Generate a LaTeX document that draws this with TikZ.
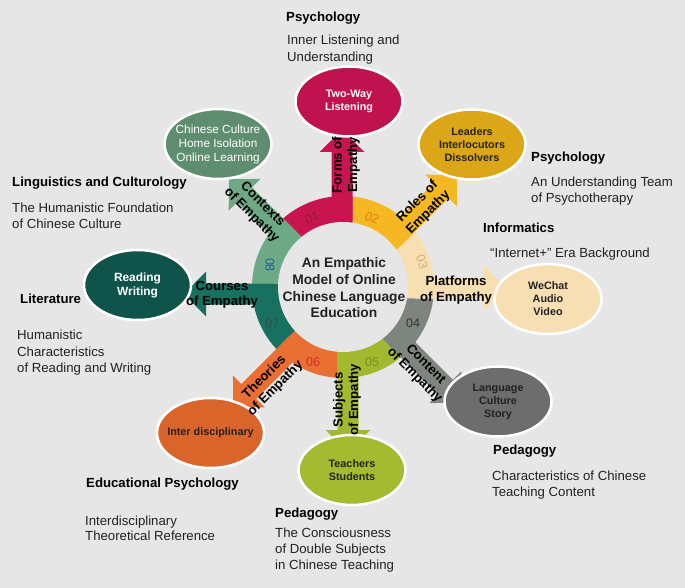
\documentclass[tikz,border=0pt]{standalone}
\usepackage{fontspec}
\setmainfont{Liberation Sans}
\usetikzlibrary{shapes.geometric}
\definecolor{bg}{HTML}{E6E6E6}
\definecolor{cA}{HTML}{C8154F}
\definecolor{cB}{HTML}{F5B722}
\definecolor{cC}{HTML}{F8DFB1}
\definecolor{cD}{HTML}{7E857F}
\definecolor{cE}{HTML}{A2B92F}
\definecolor{cF}{HTML}{E96F33}
\definecolor{cG}{HTML}{187060}
\definecolor{cH}{HTML}{6EA985}
\definecolor{eA}{HTML}{C0124E}
\definecolor{eB}{HTML}{DBA718}
\definecolor{eC}{HTML}{F7DFB3}
\definecolor{eD}{HTML}{6D6D6D}
\definecolor{eE}{HTML}{A4BA30}
\definecolor{eF}{HTML}{D9652B}
\definecolor{eG}{HTML}{10534A}
\definecolor{eH}{HTML}{5F8D6F}
\definecolor{nA}{HTML}{8E1B3C}
\definecolor{nB}{HTML}{E87C1E}
\definecolor{nC}{HTML}{D4AE74}
\definecolor{nD}{HTML}{333333}
\definecolor{nE}{HTML}{6F8F1F}
\definecolor{nF}{HTML}{D42E2E}
\definecolor{nG}{HTML}{2F4F4A}
\definecolor{nH}{HTML}{1F5F9F}
\definecolor{txt}{HTML}{222222}
\tikzset{
  ell/.style={ellipse, draw=white, line width=2.5pt, minimum width=107pt, minimum height=70pt, inner sep=0pt},
  etxt/.style={font=\fontsize{10.8}{13}\selectfont\bfseries, align=center, inner sep=0pt, text=txt},
  ringlbl/.style={font=\fontsize{13.2}{15.5}\selectfont\bfseries, align=center, inner sep=0pt, text=black},
  num/.style={font=\fontsize{12.5}{13}\selectfont, inner sep=0pt},
  headtxt/.style={font=\fontsize{13.2}{16}\selectfont\bfseries, anchor=base west, inner sep=0pt, text=black},
  bodytxt/.style={font=\fontsize{13.2}{16}\selectfont, anchor=base west, inner sep=0pt, text=txt}
}
\begin{document}
\begin{tikzpicture}[x=1pt,y=1pt]
\useasboundingbox (0,0) rectangle (685,-588);
\fill[bg] (0,0) rectangle (685,-588);
\coordinate (ringc) at (343,-287);
\coordinate (axc) at (345,-291);

% ring wedges
\begin{scope}
\clip (ringc) circle (91);
\foreach \ang/\col in {90/cA,45/cB,0/cC,-45/cD,-90/cE,-135/cF,180/cG,135/cH}{
  \fill[\col, shift={(axc)}, rotate=\ang] (0,-7.5) -- (150,-7.5) -- (22.5:250) -- (111.37,100.77) -- (5.30,-5.30) -- cycle;
}
\end{scope}

% arrows
\foreach \ang/\col in {90/cA,45/cB,0/cC,-45/cD,-90/cE,-135/cF,180/cG,135/cH}{
  \fill[\col, shift={(axc)}, rotate=\ang] (70,-7.5) -- (139,-7.5) -- (139,-19.5) -- (161,3) -- (139,25.5) -- (139,13.5) -- (70,13.5) -- cycle;
}

% inner circle
\fill[bg] (ringc) circle (65);

% ellipses
\node[ell, fill=eA] (e1) at (349,-101.5) {};
\node[ell, fill=eB] (e2) at (472,-144.5) {};
\node[ell, fill=eC] (e3) at (548,-299) {};
\node[ell, fill=eD] (e4) at (498,-401.5) {};
\node[ell, fill=eE] (e5) at (352,-470) {};
\node[ell, fill=eF] (e6) at (210.5,-433) {};
\node[ell, fill=eG] (e7) at (137.5,-285) {};
\node[ell, fill=eH] (e8) at (218,-144) {};

\node[etxt, text=white] (t1) at (e1) {Two-Way\\Listening};
\node[etxt] (t2) at (e2) {Leaders\\Interlocutors\\Dissolvers};
\node[etxt] (t3) at (e3) {WeChat\\Audio\\Video};
\node[etxt] (t4) at (e4) {Language\\Culture\\Story};
\node[etxt] (t5) at (e5) {Teachers\\Students};
\node[etxt] (t6) at (e6) {Inter disciplinary};
\node[etxt, text=white, font=\fontsize{11.9}{14}\selectfont\bfseries] (t7) at (e7) {Reading\\Writing};
\node[etxt, text=white, font=\fontsize{11.8}{14}\selectfont] (t8) at (e8) {Chinese Culture\\Home Isolation\\Online Learning};

% centre
\node[font=\fontsize{13.8}{16.7}\selectfont\bfseries, align=center, inner sep=0pt, text=txt] (ctr) at (344,-288) {An Empathic\\Model of Online\\Chinese Language\\Education};

% numbers
\node[num, text=nA, rotate=24] (n1) at (312,-218) {01};
\node[num, text=nB, rotate=-23] (n2) at (372,-218) {02};
\node[num, text=nC, rotate=-72] (n3) at (422,-262) {03};
\node[num, text=nD] (n4) at (413,-323) {04};
\node[num, text=nE] (n5) at (372,-362) {05};
\node[num, text=nF] (n6) at (313,-362) {06};
\node[num, text=nG] (n7) at (272,-323) {07};
\node[num, text=nH, rotate=-90] (n8) at (270,-265) {08};

% ring labels
\node[ringlbl, rotate=90] (l1) at (346,-165) {Forms of\\Empathy};
\node[ringlbl, rotate=45] (l2) at (423,-207) {Roles of\\Empathy};
\node[ringlbl] (l3) at (456,-290) {Platforms\\of Empathy};
\node[ringlbl, rotate=-45] (l4) at (420,-370) {Content\\of Empathy};
\node[ringlbl, rotate=90] (l5) at (347,-400) {Subjects\\of Empathy};
\node[ringlbl, rotate=45] (l6) at (270,-383) {Theories\\of Empathy};
\node[ringlbl] (l7) at (222,-295) {Courses\\of Empathy};
\node[ringlbl, rotate=-45] (l8) at (257,-210) {Contexts\\of Empathy};

% outer texts
\node[headtxt] (h1) at (286,-22) {Psychology};
\node[bodytxt] (b1a) at (287,-45) {Inner Listening and};
\node[bodytxt] (b1b) at (287,-62) {Understanding};

\node[headtxt] (h2) at (531,-162) {Psychology};
\node[bodytxt] (b2a) at (531,-187) {An Understanding Team};
\node[bodytxt] (b2b) at (531,-203) {of Psychotherapy};

\node[headtxt] (h3) at (483,-232) {Informatics};
\node[bodytxt] (b3a) at (490,-257) {“Internet+” Era Background};

\node[headtxt] (h4) at (493,-454) {Pedagogy};
\node[bodytxt] (b4a) at (492,-480) {Characteristics of Chinese};
\node[bodytxt] (b4b) at (492,-496) {Teaching Content};

\node[headtxt] (h5) at (275,-517) {Pedagogy};
\node[bodytxt] (b5a) at (275,-537) {The Consciousness};
\node[bodytxt] (b5b) at (275,-553) {of Double Subjects};
\node[bodytxt] (b5c) at (275,-569) {in Chinese Teaching};

\node[headtxt] (h6) at (86,-487) {Educational Psychology};
\node[bodytxt] (b6a) at (85,-525) {Interdisciplinary};
\node[bodytxt] (b6b) at (85,-540) {Theoretical Reference};

\node[headtxt] (h7) at (20,-303) {Literature};
\node[bodytxt] (b7a) at (17,-339) {Humanistic};
\node[bodytxt] (b7b) at (17,-356) {Characteristics};
\node[bodytxt] (b7c) at (17,-372) {of Reading and Writing};

\node[headtxt] (h8) at (12,-186) {Linguistics and Culturology};
\node[bodytxt] (b8a) at (12,-212) {The Humanistic Foundation};
\node[bodytxt] (b8b) at (12,-228) {of Chinese Culture};
\end{tikzpicture}
\end{document}
